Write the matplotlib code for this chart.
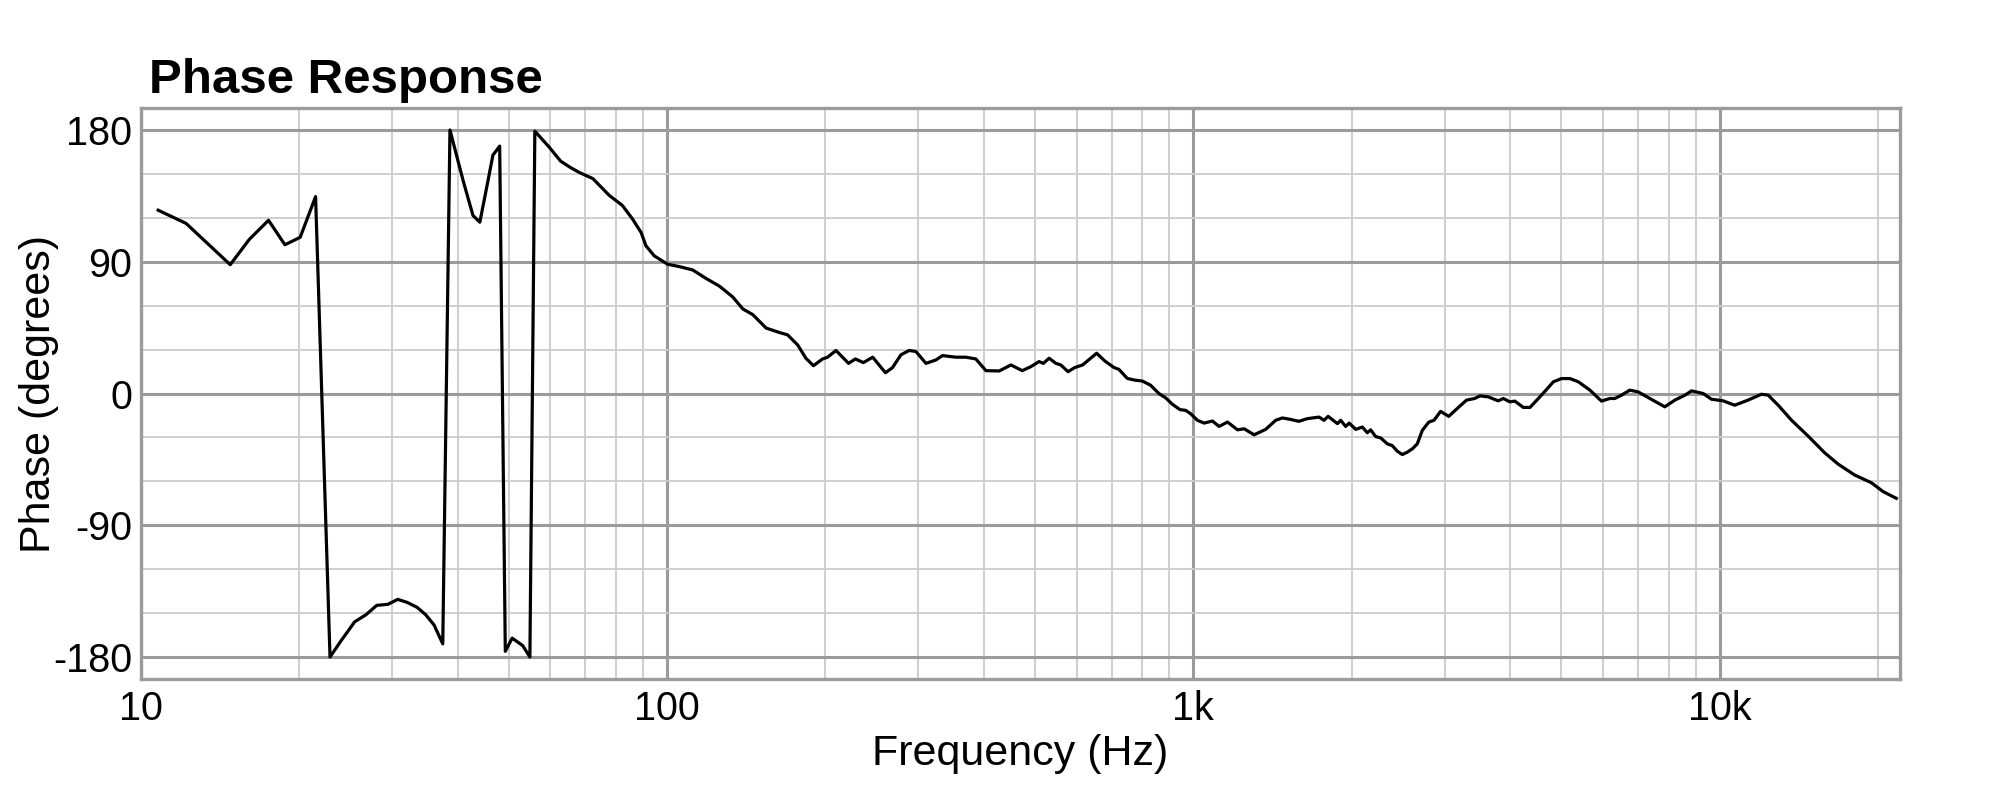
import matplotlib
matplotlib.use("Agg")
import matplotlib.pyplot as plt
from matplotlib.ticker import FixedLocator, NullFormatter
import numpy as np

freq_hz = [10.8, 12.2, 14.8, 16.1, 17.5, 18.8, 20.1, 21.5, 22.9, 24.0, 25.5, 26.8, 28.1, 29.5,
           30.8, 32.1, 33.5, 34.8, 36.1, 37.5, 38.7, 41.0, 42.8, 44.1, 45.4, 46.7, 48.1, 49.3,
           50.8, 53.2, 54.9, 56.1, 59.7, 62.8, 65.6, 68.2, 72.3, 77.7, 82.3, 86.0, 89.3, 91.2,
           94.6, 100.3, 105.5, 111.9, 118.5, 125.7, 133.3, 139.3, 145.5, 154.3, 163.4, 169.4,
           177.1, 183.6, 189.8, 197.5, 201.9, 209.4, 221.3, 228.0, 236.1, 245.9, 260.0, 268.2,
           278.2, 288.4, 297.1, 310.4, 324.3, 333.7, 353.8, 369.6, 386.2, 403.5, 427.7, 450.2,
           473, 491, 509, 519, 532, 548, 560, 578, 595, 616, 638, 655, 679, 707, 722, 749, 772,
           800, 829, 860, 886, 912, 943, 967, 988, 1018, 1048, 1087, 1119, 1161, 1213, 1249,
           1304, 1372, 1433, 1476, 1530, 1587, 1645, 1733, 1771, 1803, 1878, 1905, 1947, 1977,
           2034, 2094, 2140, 2172, 2219, 2269, 2336, 2387, 2440, 2494, 2548, 2606, 2663, 2722,
           2801, 2865, 2949, 3056, 3170, 3303, 3425, 3502, 3631, 3793, 3880, 3993, 4081, 4234,
           4360, 4523, 4657, 4830, 5005, 5193, 5387, 5667, 5962, 6183, 6320, 6508, 6747, 6998,
           7364, 7862, 8219, 8592, 8839, 9299, 9642, 10147, 10677, 11317, 11997, 12358, 12914,
           13684, 14722, 15823, 16780, 18045, 19402, 20433, 21650]

phase_deg = [125.2, 116.2, 88.0, 105.4, 118.3, 101.6, 106.7, 134.5, -180.0, -169.2, -156.0, -151.1,
             -144.7, -144.0, -140.6, -142.7, -146.0, -151.1, -158.1, -171.0, 180.0, 145.3, 121.6,
             117.0, 140.0, 162.8, 169.0, -176.1, -167.1, -172.2, -180.0, 179.2, 168.4, 158.7,
             154.3, 150.9, 146.8, 135.3, 128.4, 119.2, 110.0, 100.9, 94.0, 88.3, 86.7, 84.4,
             78.7, 73.4, 66.0, 57.8, 53.9, 44.7, 41.7, 40.1, 33.2, 24.1, 19.0, 23.6, 24.8, 29.4,
             20.6, 23.6, 21.1, 24.8, 14.2, 17.7, 26.4, 29.4, 28.7, 20.6, 22.9, 25.9, 24.8, 24.8,
             23.6, 15.6, 15.4, 19.5, 15.6, 18.3, 21.8, 20.6, 24.1, 20.6, 19.5, 14.9, 17.7, 19.5,
             24.1, 27.5, 22.2, 17.7, 16.5, 10.3, 9.2, 8.5, 5.7, 0.0, -3.0, -7.3, -11.0, -11.5,
             -13.8, -18.3, -20.2, -18.8, -22.5, -19.5, -24.8, -24.1, -28.2, -24.5, -18.3, -16.7,
             -17.7, -19.0, -17.2, -16.1, -18.3, -15.6, -20.6, -18.3, -22.5, -20.2, -24.5, -22.9,
             -26.8, -24.8, -29.4, -30.3, -34.4, -35.6, -39.4, -41.7, -40.1, -37.8, -34.4, -25.2,
             -19.5, -18.3, -12.2, -15.6, -10.3, -4.5, -3.4, -1.6, -2.3, -5.0, -3.4, -5.7, -5.2,
             -9.5, -9.5, -3.4, 1.6, 8.0, 10.2, 10.2, 8.0, 2.3, -5.2, -3.4, -3.4, -1.1, 2.3, 1.1,
             -3.4, -9.1, -4.5, -1.1, 1.8, 0.0, -3.9, -5.0, -8.0, -4.5, -0.5, -1.1, -8.0, -18.2,
             -29.1, -40.5, -48.2, -55.7, -60.9, -67.0, -71.6]

x_ticks = [10, 100, 1000, 10000]
x_tick_labels = ["10", "100", "1k", "10k"]
y_ticks = [-180, -90, 0, 90, 180]
y_tick_labels = ["-180", "-90", "0", "90", "180"]

plt.rcParams['font.family'] = ['Liberation Sans', 'DejaVu Sans']

fig = plt.figure(figsize=(20, 7.99), dpi=100)
ax = fig.add_axes([0.0703, 0.1502, 0.8797, 0.7146])

major_c = '#9b9b9b'
minor_c = '#cccccc'

ax.plot(freq_hz, phase_deg, color='black', lw=2.3, zorder=5)

ax.set_xscale('log')
ax.set_xlim(10, 22000)
ax.set_ylim(-195, 195)

ax.xaxis.set_major_locator(FixedLocator(x_ticks))
ax.set_xticklabels(x_tick_labels)
minor_x = [m * d for d in [10, 100, 1000, 10000] for m in range(2, 10) if m * d < 22000]
ax.xaxis.set_minor_locator(FixedLocator(minor_x))
ax.xaxis.set_minor_formatter(NullFormatter())

ax.set_yticks(y_ticks)
ax.set_yticklabels(y_tick_labels)
ax.yaxis.set_minor_locator(FixedLocator([-150, -120, -60, -30, 30, 60, 120, 150]))

ax.grid(which='major', color=major_c, lw=2.2, zorder=1)
ax.grid(which='minor', color=minor_c, lw=1.3, zorder=0)
ax.set_axisbelow(True)

for s in ax.spines.values():
    s.set_color(major_c)
    s.set_linewidth(2.4)

ax.tick_params(which='both', length=0)
ax.tick_params(axis='x', labelsize=28.5, pad=8)
ax.tick_params(axis='y', labelsize=28.5, pad=6)

ax.set_xlabel("Frequency (Hz)", fontsize=31, labelpad=4)
fig.text(0.0195, 0.5075, "Phase (degrees)", rotation=90, fontsize=31,
         ha='center', va='center')

fig.text(149 / 2000, 1 - 93 / 799, "Phase Response", fontsize=35.5, fontweight='bold',
         ha='left', va='baseline')

fig.savefig("out.png", dpi=100, facecolor='white')
